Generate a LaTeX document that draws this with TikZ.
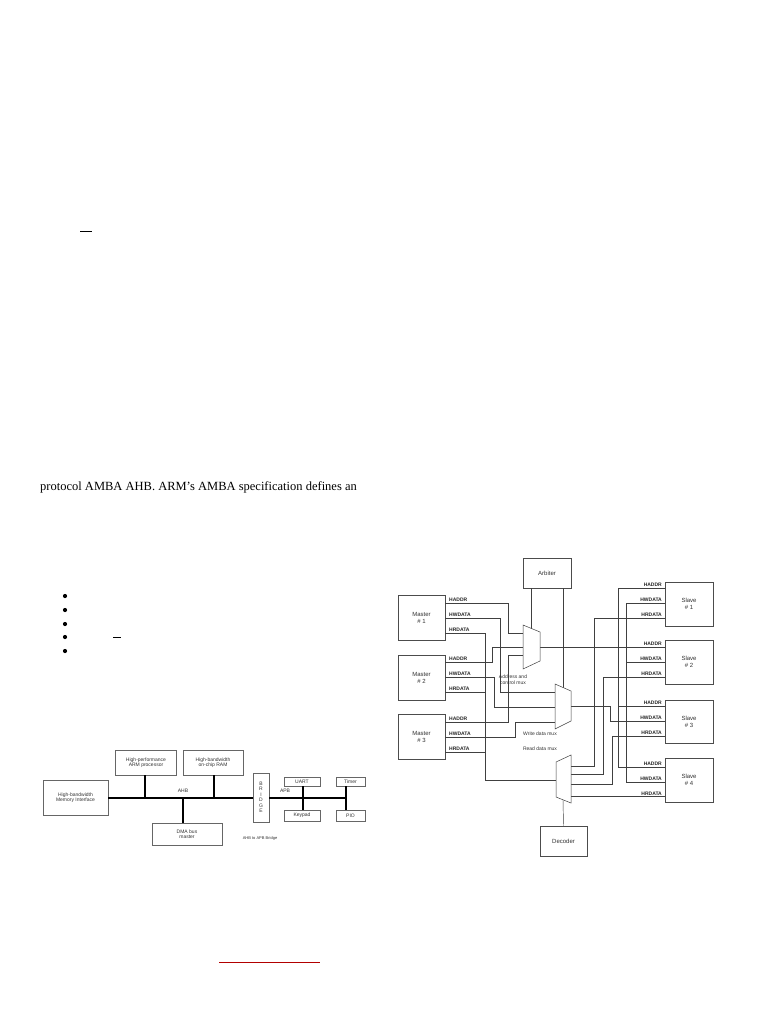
\documentclass[tikz,border=0pt]{standalone}
\usepackage{fontspec}
\setmainfont{Liberation Serif}
\newfontfamily\dsans{Liberation Sans}
\begin{document}
\begin{tikzpicture}[x=1pt,y=-1pt,
  box/.style={draw=black!70,line width=0.5pt,inner sep=0pt,align=center,font=\dsans\fontsize{6}{7}\selectfont,text=black!80},
  lbox/.style={draw=black!60,line width=0.5pt,inner sep=0pt,align=center,font=\dsans\fontsize{5}{5.5}\selectfont,text=black!80},
  sig/.style={font=\dsans\bfseries\fontsize{5}{5}\selectfont,inner sep=0pt,text=black!85},
  wire/.style={draw=black!75,line width=0.45pt},
  thick bus/.style={draw=black,line width=2.2pt},
  muxs/.style={draw=black!75,line width=0.5pt,fill=white},
  small/.style={font=\dsans\fontsize{5}{6}\selectfont,inner sep=0pt,align=center,text=black!80}]
\useasboundingbox (0,0) rectangle (768,1024);
\fill[white] (0,0) rectangle (768,1024);
% top text
\draw[line width=0.8pt] (80,231) -- (92,231);
\node[anchor=west,inner sep=0pt,font=\fontsize{12.5}{14}\selectfont] (txt) at (40,487) {protocol AMBA AHB. ARM's AMBA specification defines an};
\foreach \yy [count=\i] in {596,610,624,637,651} \fill (65,\yy) circle (2.1pt) coordinate (b\i);
\draw[line width=0.7pt] (113,637) -- (121,637);
\draw[draw=red!70!black,line width=1pt] (219,962) -- (320,962);
% ===== left diagram =====
\node[lbox,minimum width=65pt,minimum height=35pt] (mem) at (75.5,797.5) {High-bandwidth\\Memory Interface};
\node[lbox,minimum width=61pt,minimum height=25pt] (arm) at (146,762.5) {High-performance\\ARM processor};
\node[lbox,minimum width=60pt,minimum height=25pt] (ram) at (213,762.5) {High-bandwidth\\on-chip RAM};
\node[lbox,minimum width=70pt,minimum height=22pt] (dma) at (187,834) {DMA bus\\master};
\node[lbox,minimum width=16pt,minimum height=49pt] (br) at (261,797.5) {B\\R\\I\\D\\G\\E};
\node[lbox,minimum width=36pt,minimum height=9pt] (uart) at (302,781.5) {UART};
\node[lbox,minimum width=29pt,minimum height=9pt] (timer) at (350.5,781.5) {Timer};
\node[lbox,minimum width=36pt,minimum height=11pt] (key) at (302,815.5) {Keypad};
\node[lbox,minimum width=29pt,minimum height=11pt] (pio) at (350.5,815.5) {PIO};
\draw[thick bus] (mem.east |- 0,798) -- (br.west |- 0,798);
\draw[thick bus] (arm.south -| 145,0) -- (145,798);
\draw[thick bus] (ram.south -| 214,0) -- (214,798);
\draw[thick bus] (dma.north -| 183,0) -- (183,798);
\draw[line width=1.3pt] (br.east |- 0,798) -- (347,798);
\draw[line width=1.3pt] (uart.south -| 303,0) -- (key.north -| 303,0);
\draw[line width=1.3pt] (timer.south -| 346,0) -- (pio.north -| 346,0);
\node[small] (ahb) at (183,791) {AHB};
\node[small] (apb) at (285,791) {APB};
\node[small,font=\dsans\fontsize{4}{5}\selectfont] (abr) at (260,838) {AHB to APB Bridge};
% ===== right diagram =====
\node[box,minimum width=48pt,minimum height=30pt] (arb) at (547,573) {Arbiter};
\node[box,minimum width=47pt,minimum height=30pt] (dec) at (563.5,841) {Decoder};
\node[box,minimum width=47pt,minimum height=45pt] (m1) at (421.5,617.5) {Master\\\# 1};
\node[box,minimum width=47pt,minimum height=45pt] (m2) at (421.5,677.5) {Master\\\# 2};
\node[box,minimum width=47pt,minimum height=45pt] (m3) at (421.5,736.5) {Master\\\# 3};
\node[box,minimum width=48pt,minimum height=44pt] (s1) at (689,604) {Slave\\\# 1};
\node[box,minimum width=48pt,minimum height=44pt] (s2) at (689,662) {Slave\\\# 2};
\node[box,minimum width=48pt,minimum height=43pt] (s3) at (689,721.5) {Slave\\\# 3};
\node[box,minimum width=48pt,minimum height=44pt] (s4) at (689,780) {Slave\\\# 4};
% master signal labels
\foreach \m/\b in {m1/603,m2/662,m3/722}{
  \node[sig,anchor=south west] at (449,\b-1.5) {HADDR};
  \node[sig,anchor=south west] at (449,\b+13.5) {HWDATA};
  \node[sig,anchor=south west] at (449,\b+28.5) {HRDATA};
}
\foreach \s/\b in {s1/588,s2/647,s3/706,s4/767}{
  \node[sig,anchor=south east] at (662,\b-1.5) {HADDR};
  \node[sig,anchor=south east] at (662,\b+13.5) {HWDATA};
  \node[sig,anchor=south east] at (662,\b+28.5) {HRDATA};
}
% master wires
\draw[wire] (m1.east |- 0,603) -- (508,603) -- (508,633) -- (523,633);
\draw[wire] (m1.east |- 0,618) -- (500,618) -- (500,692) -- (555,692);
\draw[wire] (m1.east |- 0,633) -- (485,633) -- (485,780) -- (556,780);
\draw[wire] (m2.east |- 0,662) -- (492,662) -- (492,647) -- (523,647);
\draw[wire] (m2.east |- 0,677) -- (494,677) -- (494,707) -- (555,707);
\draw[wire] (m2.east |- 0,692) -- (485,692);
\draw[wire] (m3.east |- 0,722) -- (508,722) -- (508,655) -- (523,655);
\draw[wire] (m3.east |- 0,737) -- (515,737) -- (515,722) -- (555,722);
\draw[wire] (m3.east |- 0,752) -- (485,752);
% arbiter / decoder
\draw[wire] (arb.south -| 531,0) -- (531,630);
\draw[wire] (arb.south -| 563,0) -- (563,690);
\draw[wire] (dec.north) -- (563,800);
% slave buses
\draw[wire] (618,588) -- (s1.west |- 0,588);
\draw[wire] (618,588) -- (618,767) -- (s4.west |- 0,767);
\draw[wire] (618,647) -- (s2.west |- 0,647);
\draw[wire] (618,706) -- (s3.west |- 0,706);
\draw[wire] (540,647) -- (618,647);
\draw[wire] (626,603) -- (s1.west |- 0,603);
\draw[wire] (626,603) -- (626,782) -- (s4.west |- 0,782);
\draw[wire] (626,662) -- (s2.west |- 0,662);
\draw[wire] (626,721) -- (s3.west |- 0,721);
\draw[wire] (571,706) -- (610,706) -- (610,721) -- (626,721);
\draw[wire] (s1.west |- 0,618) -- (594,618) -- (594,766) -- (571,766);
\draw[wire] (s2.west |- 0,677) -- (603,677) -- (603,774) -- (571,774);
\draw[wire] (s3.west |- 0,736) -- (612,736) -- (612,784) -- (571,784);
\draw[wire] (s4.west |- 0,796) -- (571,796);
% muxes
\draw[muxs] (523,625) -- (540,632) -- (540,661) -- (523,669) -- cycle;
\draw[muxs] (555,684) -- (571,691) -- (571,721) -- (555,729) -- cycle;
\draw[muxs] (556,762) -- (571,755) -- (571,803) -- (556,797) -- cycle;
\node[small] (aml) at (513,680) {Address and\\control mux};
\node[small] (wml) at (540,734) {Write data mux};
\node[small] (rml) at (540,749) {Read data mux};
\end{tikzpicture}
\end{document}
